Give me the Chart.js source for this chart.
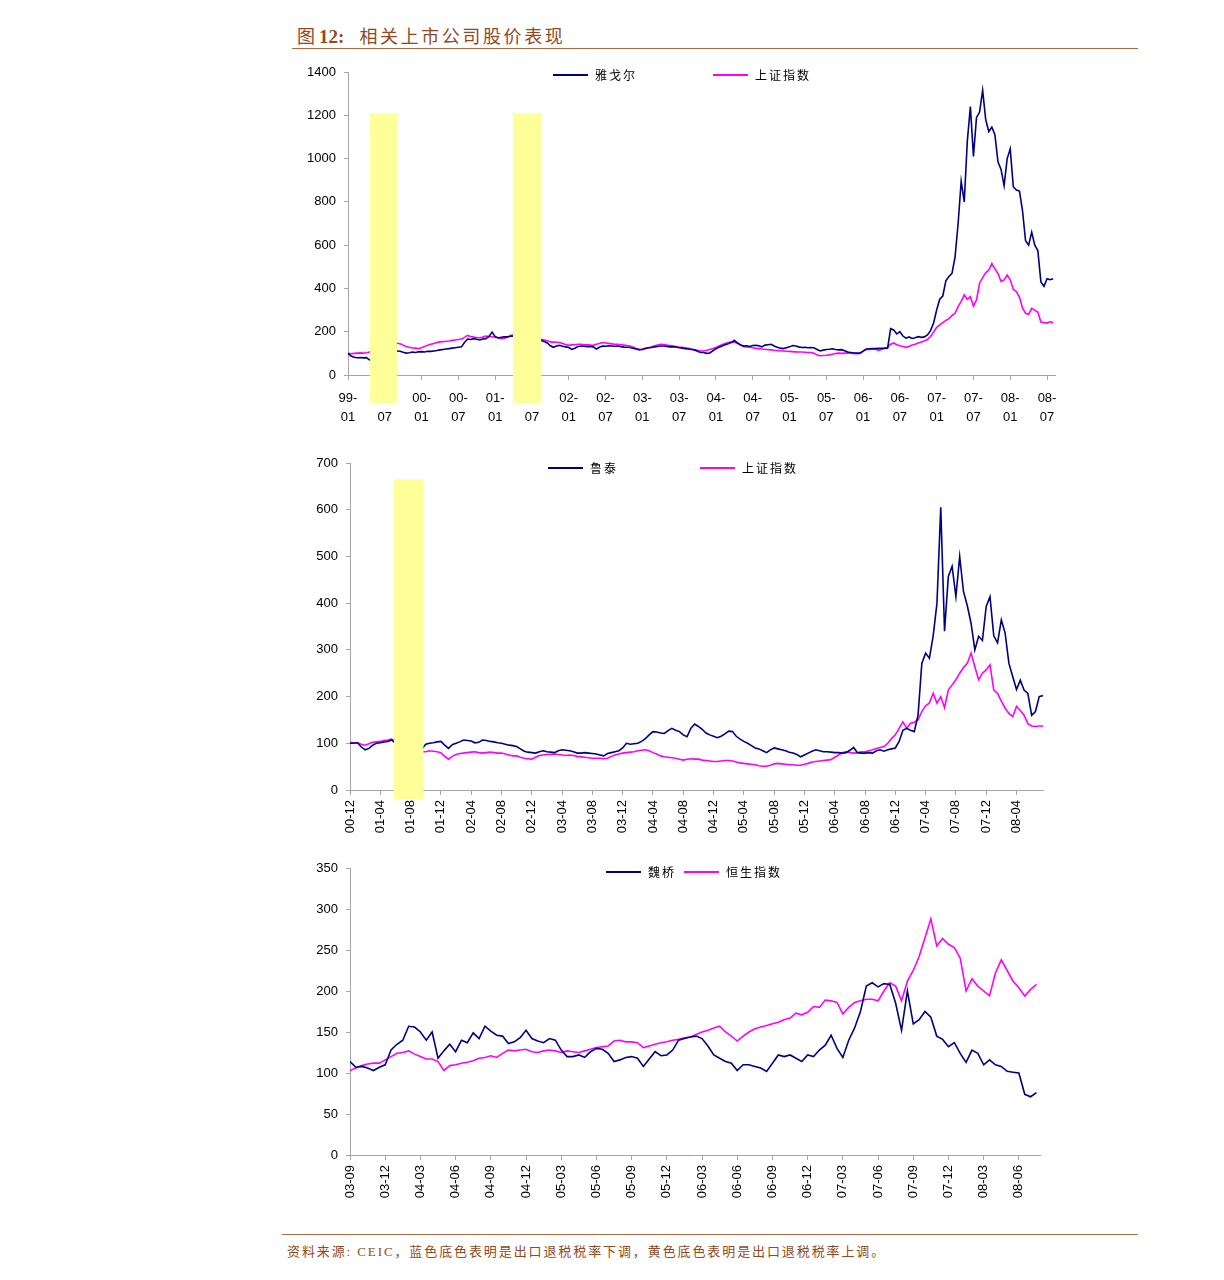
<!DOCTYPE html>
<html>
<head>
<meta charset="utf-8">
<title>图 12: 相关上市公司股价表现</title>
<script src="https://cdn.jsdelivr.net/npm/chart.js@4.4.1/dist/chart.umd.min.js"></script>
<style>
    body { margin: 0; background: #fff; }
    #page { position: relative; width: 1224px; height: 1280px; }
    #title { position: absolute; left: 297px; top: 22px; color: #94471f; font-size: 18px; white-space: nowrap; }
    #title .fig { font-family: "Noto Sans CJK SC", sans-serif; }
    #title .num { font-family: "Liberation Serif", serif; font-weight: bold; font-size: 19px; }
    #title .cap { font-family: "Noto Sans CJK SC", sans-serif; letter-spacing: 2.6px; margin-left: 15px; }
    .rule { position: absolute; height: 1px; background: #b06a43; }
    #source { position: absolute; left: 287px; top: 1241px; color: #8f4a22; font-size: 13px; letter-spacing: 1.9px;
              font-family: "Liberation Serif", "Noto Sans CJK SC", serif; white-space: nowrap; }
    canvas { position: absolute; left: 280px; }
</style>
</head>
<body>
<div id="page">
    <div id="title"><span class="fig">图 </span><span class="num">12:</span><span class="cap">相关上市公司股价表现</span></div>
    <div class="rule" style="left:292px; top:48px; width:846px;"></div>
    <canvas id="chart-yagor" width="800" height="385" style="top:55px;"></canvas>
    <canvas id="chart-lutai" width="800" height="400" style="top:445px;"></canvas>
    <canvas id="chart-weiqiao" width="800" height="370" style="top:850px;"></canvas>
    <div class="rule" style="left:282px; top:1234px; width:856px;"></div>
    <div id="source">资料来源: CEIC，蓝色底色表明是出口退税税率下调，黄色底色表明是出口退税税率上调。</div>
</div>

<script>
// series are sampled every half month from the first tick label of each panel
const STEP = 0.5;

// ---- panel 1: 雅戈尔 vs 上证指数 (99-01 .. 08-08)
const p1Names = ['雅戈尔', '上证指数'];
const p1Ticks = ['99-01', '99-07', '00-01', '00-07', '01-01', '01-07', '02-01', '02-07', '03-01', '03-07',
    '04-01', '04-07', '05-01', '05-07', '06-01', '06-07', '07-01', '07-07', '08-01', '08-07'];
const p1Yagor = [
    100, 88, 82, 80, 81, 79, 80, 70, 75, 86, 95, 100, 104, 108, 110, 112, 111, 110, 105, 101,
    103, 106, 104, 107, 108, 106, 110, 109, 111, 113, 116, 118, 120, 122, 124, 126, 128, 130, 150, 166,
    164, 168, 165, 162, 166, 168, 178, 198, 177, 172, 174, 177, 176, 179, 180, 178, 175, 172, 170, 168,
    166, 164, 162, 160, 155, 148, 135, 128, 134, 137, 133, 130, 127, 118, 124, 132, 134, 133, 131, 132,
    130, 120, 128, 134, 133, 135, 134, 133, 134, 131, 129, 128, 127, 124, 120, 116, 118, 122, 126, 127,
    130, 132, 134, 134, 132, 130, 131, 129, 126, 124, 122, 120, 118, 116, 110, 104, 104, 100, 102, 112,
    121, 128, 134, 140, 144, 150, 160, 148, 140, 134, 135, 132, 136, 137, 135, 130, 138, 140, 142, 134,
    128, 124, 122, 126, 130, 136, 134, 130, 127, 128, 126, 127, 126, 118, 111, 115, 118, 119, 121, 118,
    116, 117, 112, 106, 104, 102, 101, 101, 110, 119, 121, 122, 122, 123, 123, 123, 124, 214, 208, 190,
    200, 180, 170, 176, 169, 172, 177, 174, 176, 185, 205, 240, 300, 350, 365, 435, 455, 470, 545, 700,
    895, 800, 1080, 1240, 1010, 1190, 1215, 1315, 1180, 1125, 1145, 1110, 985, 950, 875, 1000, 1045, 870, 855, 850,
    760, 620, 600, 660, 600, 575, 430, 410, 445, 440, 445
];
const p1Sse = [
    100, 98, 100, 101, 102, 101, 103, 106, 110, 120, 128, 135, 140, 143, 146, 148, 147, 144, 138, 132,
    128, 125, 124, 122, 126, 132, 138, 142, 146, 150, 153, 154, 156, 157, 160, 162, 164, 166, 174, 183,
    178, 175, 173, 172, 175, 180, 178, 177, 174, 171, 168, 170, 175, 182, 186, 182, 178, 176, 174, 172,
    170, 168, 166, 165, 162, 158, 153, 152, 151, 150, 146, 141, 137, 139, 140, 142, 142, 140, 139, 138,
    137, 142, 146, 150, 148, 146, 144, 142, 142, 140, 138, 136, 134, 128, 122, 119, 120, 123, 126, 130,
    135, 139, 142, 141, 138, 136, 134, 131, 129, 128, 126, 124, 120, 117, 114, 112, 111, 114, 118, 122,
    127, 134, 140, 146, 150, 152, 153, 148, 138, 131, 130, 128, 126, 123, 122, 120, 119, 117, 116, 114,
    113, 112, 111, 110, 109, 108, 107, 106, 106, 105, 104, 104, 100, 92, 89, 90, 91, 93, 96, 99,
    101, 100, 101, 102, 101, 100, 99, 100, 110, 119, 118, 119, 120, 114, 118, 125, 128, 142, 148, 140,
    135, 132, 128, 132, 139, 142, 148, 152, 157, 164, 178, 198, 220, 232, 242, 252, 260, 275, 285, 316,
    340, 370, 350, 362, 318, 347, 424, 450, 472, 485, 515, 490, 468, 432, 439, 462, 440, 395, 385, 360,
    310, 285, 280, 308, 300, 290, 245, 242, 240, 246, 242
];
const p1Bands = [[3.6, 8.0], [26.9, 31.5]];   // months from 99-01
const p1BandTop = 1210;

// ---- panel 2: 鲁泰 vs 上证指数 (00-12 .. 08-07)
const p2Names = ['鲁泰', '上证指数'];
const p2Ticks = ['00-12', '01-04', '01-08', '01-12', '02-04', '02-08', '02-12', '03-04', '03-08', '03-12',
    '04-04', '04-08', '04-12', '05-04', '05-08', '05-12', '06-04', '06-08', '06-12', '07-04', '07-08', '07-12', '08-04'];
const p2Lutai = [
    100, 100, 101, 92, 86, 89, 96, 100, 101, 103, 104, 107, 100, 95, 92, 90, 88, 86, 87, 88,
    98, 100, 101, 103, 104, 96, 89, 97, 100, 103, 107, 106, 105, 101, 102, 107, 106, 104, 103, 101,
    100, 98, 96, 95, 93, 88, 83, 81, 80, 79, 82, 84, 82, 81, 80, 84, 86, 85, 84, 82,
    79, 79, 80, 79, 78, 77, 75, 73, 78, 80, 82, 84, 90, 100, 98, 99, 100, 104, 110, 118,
    125, 124, 122, 121, 127, 132, 128, 125, 118, 114, 132, 141, 136, 130, 122, 118, 115, 112, 115, 120,
    126, 125, 115, 109, 104, 100, 95, 90, 88, 84, 80, 86, 90, 88, 86, 84, 81, 79, 76, 71,
    75, 79, 83, 86, 84, 82, 82, 81, 80, 80, 79, 80, 85, 91, 80, 79, 79, 80, 79, 84,
    86, 83, 86, 88, 90, 104, 128, 132, 128, 125, 160, 271, 293, 282, 330, 400, 605, 340, 457, 479,
    414, 500, 425, 395, 357, 300, 329, 320, 393, 414, 330, 315, 364, 336, 271, 243, 215, 235, 214, 207,
    160, 168, 200, 202
];
const p2Sse = [
    102, 101, 101, 98, 96, 99, 102, 103, 104, 106, 107, 109, 105, 100, 95, 90, 86, 84, 83, 82,
    82, 84, 83, 82, 80, 72, 66, 72, 76, 78, 79, 80, 81, 82, 80, 79, 80, 81, 80, 79,
    79, 77, 75, 73, 73, 70, 68, 67, 66, 70, 74, 75, 76, 76, 77, 76, 75, 74, 75, 74,
    72, 71, 70, 69, 68, 68, 68, 67, 68, 72, 75, 77, 79, 80, 81, 82, 84, 85, 86, 84,
    80, 77, 73, 71, 70, 69, 68, 66, 64, 66, 67, 66, 66, 64, 63, 62, 61, 61, 62, 63,
    63, 62, 60, 58, 57, 56, 55, 54, 52, 51, 51, 53, 56, 57, 56, 55, 54, 54, 53, 53,
    55, 57, 60, 61, 62, 63, 64, 65, 70, 75, 80, 82, 80, 79, 80, 82, 82, 84, 86, 89,
    91, 93, 100, 110, 118, 132, 146, 132, 143, 145, 150, 168, 180, 186, 207, 186, 200, 176, 214, 225,
    236, 250, 262, 271, 293, 264, 236, 250, 257, 268, 214, 207, 190, 175, 164, 157, 179, 170, 160, 142,
    137, 136, 137, 137
];
const p2Bands = [[5.8, 9.7]];   // months from 00-12
const p2BandTop = 665;

// ---- panel 3: 魏桥 vs 恒生指数 (03-09 .. 08-07)
const p3Names = ['魏桥', '恒生指数'];
const p3Ticks = ['03-09', '03-12', '04-03', '04-06', '04-09', '04-12', '05-03', '05-06', '05-09', '05-12',
    '06-03', '06-06', '06-09', '06-12', '07-03', '07-06', '07-09', '07-12', '08-03', '08-06'];
const p3Weiqiao = [
    114, 107, 108, 106, 103, 107, 110, 128, 135, 140, 157, 156, 150, 140, 150, 118, 127, 135, 126, 140,
    137, 149, 142, 157, 151, 146, 145, 136, 138, 143, 152, 142, 139, 137, 142, 140, 128, 120, 120, 122,
    119, 126, 130, 129, 124, 114, 116, 119, 120, 118, 108, 117, 126, 121, 122, 128, 140, 142, 144, 145,
    142, 133, 122, 118, 114, 112, 103, 110, 110, 108, 106, 102, 112, 122, 120, 122, 118, 114, 122, 120,
    128, 134, 146, 130, 119, 140, 155, 175, 206, 210, 205, 209, 208, 185, 152, 200, 160, 165, 175, 168,
    145, 141, 132, 137, 124, 113, 128, 124, 110, 116, 110, 108, 102, 101, 100, 74, 71, 76
];
const p3Hsi = [
    103, 106, 109, 111, 112, 112, 116, 120, 124, 125, 127, 123, 120, 117, 117, 114, 103, 109, 110, 112,
    113, 115, 118, 119, 121, 119, 124, 128, 127, 128, 129, 126, 125, 127, 128, 127, 125, 127, 126, 125,
    127, 129, 131, 132, 133, 139, 140, 138, 138, 137, 131, 133, 135, 137, 138, 140, 141, 143, 144, 147,
    150, 152, 155, 157, 150, 145, 139, 145, 150, 154, 156, 158, 160, 162, 165, 167, 173, 171, 174, 181,
    180, 189, 188, 186, 172, 180, 186, 188, 190, 190, 188, 200, 210, 206, 188, 212, 225, 242, 265, 288,
    255, 264, 257, 253, 240, 200, 215, 206, 200, 194, 222, 238, 225, 212, 204, 194, 202, 208
];

const NAVY = '#000080';
const PINK = '#ff00ff';
const AXIS = '#a6a6a6';
const TICK_FONT = { family: '"Liberation Sans", Arial, sans-serif', size: 13 };

/**
 * Months between two 'yy-mm' labels
 */
function monthsFrom(label, start) {
    const year = s => { const y = +s.slice(0, 2); return y < 50 ? 2000 + y : 1900 + y; };
    return (year(label) - year(start)) * 12 + (+label.slice(3) - +start.slice(3));
}

function toPoints(values) {
    return values.map((v, i) => ({ x: i * STEP, y: v }));
}

/**
 * Yellow export-rebate bands, painted over the lines and axis
 */
const bandPlugin = {
    id: 'rebateBands',
    afterDraw(chart, args, opts) {
        if (!opts.bands) return;
        const { ctx, chartArea, scales } = chart;
        const top = scales.y.getPixelForValue(opts.top);
        ctx.save();
        ctx.fillStyle = '#ffff99';
        opts.bands.forEach(([a, b]) => {
            const x0 = scales.x.getPixelForValue(a);
            const x1 = scales.x.getPixelForValue(b);
            ctx.fillRect(x0, top, x1 - x0, chartArea.bottom + opts.below - top);
        });
        ctx.restore();
    }
};

/**
 * Line-sample legend placed inside the plot area
 */
const legendPlugin = {
    id: 'lineLegend',
    afterDraw(chart, args, opts) {
        const { ctx, chartArea } = chart;
        const y = chartArea.top + opts.dy;
        ctx.save();
        ctx.font = '12px "Noto Sans CJK SC", sans-serif';
        ctx.letterSpacing = '2px';
        ctx.textBaseline = 'middle';
        chart.data.datasets.forEach((ds, i) => {
            const x = chartArea.left + opts.offsets[i];
            ctx.strokeStyle = ds.borderColor;
            ctx.lineWidth = 2;
            ctx.beginPath();
            ctx.moveTo(x, y);
            ctx.lineTo(x + 35, y);
            ctx.stroke();
            ctx.fillStyle = '#000';
            ctx.fillText(ds.label, x + 42, y);
        });
        ctx.restore();
    }
};

/**
 * Build one stock-vs-index panel
 */
function buildPanel(id, cfg) {
    const start = cfg.ticks[0];
    return new Chart(document.getElementById(id), {
        type: 'line',
        data: {
            datasets: [
                { label: cfg.names[0], data: toPoints(cfg.stock), borderColor: NAVY, borderWidth: 1.6, pointRadius: 0, tension: 0 },
                { label: cfg.names[1], data: toPoints(cfg.index), borderColor: PINK, borderWidth: 1.6, pointRadius: 0, tension: 0 }
            ]
        },
        options: {
            responsive: false,
            animation: false,
            events: [],
            layout: { padding: { top: cfg.padTop, right: cfg.padRight, left: 0, bottom: 0 } },
            plugins: {
                legend: { display: false },
                tooltip: { enabled: false },
                rebateBands: { bands: cfg.bands, top: cfg.bandTop, below: cfg.bandBelow },
                lineLegend: { offsets: cfg.legendAt, dy: cfg.legendDy }
            },
            scales: {
                x: {
                    type: 'linear',
                    min: 0,
                    max: cfg.xMax,
                    afterBuildTicks: (scale) => {
                        scale.ticks = cfg.ticks.map(t => ({ value: monthsFrom(t, start) }));
                    },
                    afterFit: (scale) => { scale.height = cfg.xHeight; },
                    grid: { drawOnChartArea: false, tickLength: 5, color: AXIS },
                    border: { color: AXIS },
                    ticks: {
                        autoSkip: false,
                        minRotation: cfg.rotate,
                        maxRotation: cfg.rotate,
                        padding: cfg.xPad,
                        color: '#000',
                        font: { ...TICK_FONT, lineHeight: 1.45 },
                        callback: (v, i) => cfg.rotate ? cfg.ticks[i] : [cfg.ticks[i].slice(0, 3), cfg.ticks[i].slice(3)]
                    }
                },
                y: {
                    min: 0,
                    max: cfg.yMax,
                    afterFit: (scale) => { scale.width = cfg.yWidth; },
                    grid: { drawOnChartArea: false, tickLength: 4, color: AXIS },
                    border: { color: AXIS },
                    ticks: { stepSize: cfg.yStep, padding: 8, color: '#000', font: TICK_FONT, callback: v => String(v) }
                }
            }
        },
        plugins: [bandPlugin, legendPlugin]
    });
}

buildPanel('chart-yagor', {
    names: p1Names, ticks: p1Ticks, stock: p1Yagor, index: p1Sse,
    bands: p1Bands, bandTop: p1BandTop, bandBelow: 28,
    xMax: 115.3, yMax: 1400, yStep: 200, rotate: 0, xPad: 9,
    padTop: 17, padRight: 25, yWidth: 68, xHeight: 65,
    legendAt: [205, 365], legendDy: 3
});

buildPanel('chart-lutai', {
    names: p2Names, ticks: p2Ticks, stock: p2Lutai, index: p2Sse,
    bands: p2Bands, bandTop: p2BandTop, bandBelow: 9,
    xMax: 91.5, yMax: 700, yStep: 100, rotate: 90, xPad: 5,
    padTop: 18, padRight: 37, yWidth: 70, xHeight: 55,
    legendAt: [198, 350], legendDy: 5
});

buildPanel('chart-weiqiao', {
    names: p3Names, ticks: p3Ticks, stock: p3Weiqiao, index: p3Hsi,
    bands: null, bandTop: 0, bandBelow: 0,
    xMax: 58.8, yMax: 350, yStep: 50, rotate: 90, xPad: 5,
    padTop: 18, padRight: 40, yWidth: 70, xHeight: 65,
    legendAt: [256, 334], legendDy: 4
});
</script>
</body>
</html>
